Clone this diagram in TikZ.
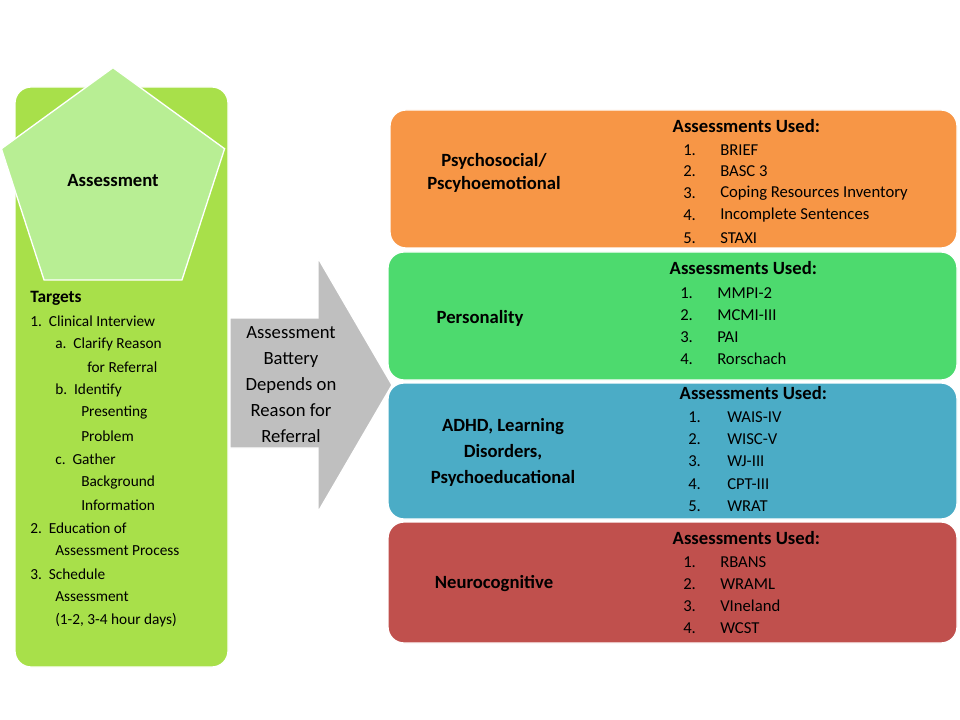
\documentclass[tikz,border=0pt]{standalone}
\usepackage{fontspec}
\setmainfont{Carlito}
\usetikzlibrary{shapes.geometric,positioning}
\definecolor{lime}{HTML}{A8E04A}
\definecolor{penta}{HTML}{B8EE94}
\definecolor{orangebox}{HTML}{F79646}
\definecolor{greenbox}{HTML}{4DDA6E}
\definecolor{bluebox}{HTML}{4BACC6}
\definecolor{redbox}{HTML}{C0504D}
\definecolor{arrowgray}{HTML}{BFBFBF}
\tikzset{
  panel/.style ={draw=white, line width=1pt, rounded corners=12pt},
  label/.style ={font=\bfseries\fontsize{14}{17}\selectfont, align=center},
  head/.style ={font=\bfseries\fontsize{14}{17}\selectfont, anchor=west},
  item/.style ={font=\fontsize{12.5}{16}\selectfont, anchor=west, inner sep=0pt},
  target/.style ={font=\fontsize{11.5}{14}\selectfont, anchor=west, inner sep=0pt}
}
\begin{document}
\begin{tikzpicture}[x=0.75pt,y=-0.75pt]
  \useasboundingbox (0,0) rectangle (960,720);
  % left panel
  \draw[panel, fill=lime] (15,87) rectangle (228,667);
  \node[regular polygon, regular polygon sides=5, minimum size=176, draw=white, line width=1pt, fill=penta] (penta) at (113,185) {};
  \node[label] (assess) at (113,181) {Assessment};
  \node[target, font=\bfseries\fontsize{13}{15}\selectfont] (targets) at (30,298) {Targets};
  \foreach \y/\x/\t in {321/30/{1.\ \ Clinical Interview}, 344/55/{a.\ \ Clarify Reason}, 367/87/{for Referral},
    390/55/{b.\ \ Identify}, 413/81/{Presenting}, 436/81/{Problem}, 459/55/{c.\ \ Gather},
    482/81/{Background}, 505/81/{Information}, 528/30/{2.\ \ Education of}, 551/55/{Assessment Process},
    574/30/{3.\ \ Schedule}, 597/55/{Assessment}, 620/55/{(1-2, 3-4 hour days)}}
    \node[target] at (\x,\y) {\t};
  % big arrow
  \draw[white, line width=1pt, fill=arrowgray] (230,318) -- (318,318) -- (318,258) -- (392,385)
    -- (318,512) -- (318,448) -- (230,448) -- cycle;
  \node[align=center, font=\fontsize{14}{19.5}\selectfont] (battery) at (291,385)
    {Assessment\\Battery\\Depends on\\Reason for\\Referral};
  % categories
  \draw[panel, fill=orangebox] (390,110) rectangle (957,248);
  \draw[panel, fill=greenbox] (388,252) rectangle (957,380);
  \draw[panel, fill=bluebox] (388,383) rectangle (957,519);
  \draw[panel, fill=redbox] (388,522) rectangle (957,643);
  \node[label] (psycho) at (494,173) {Psychosocial/\\Pscyhoemotional};
  \node[label] (person) at (480,318) {Personality};
  \node[label, font=\bfseries\fontsize{14}{19.5}\selectfont] (adhd) at (503,452) {ADHD, Learning\\Disorders,\\Psychoeducational};
  \node[label] (neuro) at (494,584) {Neurocognitive};
  \node[head] at (668,126) {Assessments Used:};
  \node[head] at (665,268) {Assessments Used:};
  \node[head] at (675,393) {Assessments Used:};
  \node[head] at (668,538) {Assessments Used:};
  \foreach \y/\n/\t in {150/1/BRIEF/BRIEF-A, 171/2/BASC 3, 193/3/Coping Resources Inventory, 215/4/Incomplete Sentences, 238/5/STAXI}
    {\node[item] at (683,\y) {\n.}; \node[item] at (720,\y) {\t};}
  \foreach \y/\n/\t in {293/1/MMPI-2/MMPI-2-A, 315/2/MCMI-III, 337/3/PAI/PAI-A, 359/4/Rorschach}
    {\node[item] at (680,\y) {\n.}; \node[item] at (717,\y) {\t};}
  \foreach \y/\n/\t in {417/1/WAIS-IV, 439/2/WISC-V, 461/3/WJ-III, 484/4/CPT-III, 506/5/WRAT}
    {\node[item] at (688,\y) {\n.}; \node[item] at (727,\y) {\t};}
  \foreach \y/\n/\t in {562/1/RBANS, 584/2/WRAML, 606/3/VIneland, 628/4/WCST}
    {\node[item] at (683,\y) {\n.}; \node[item] at (720,\y) {\t};}
\end{tikzpicture}
\end{document}
